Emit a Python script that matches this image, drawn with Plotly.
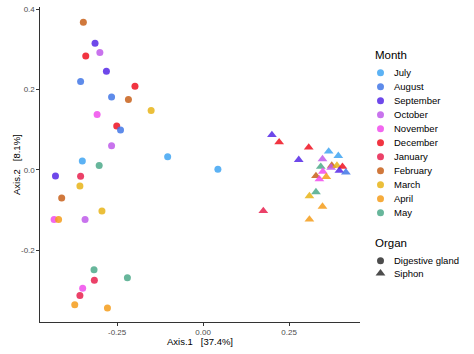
import plotly.graph_objects as go

months = ["July", "August", "September", "October", "November", "December",
          "January", "February", "March", "April", "May"]
month_colors = ["#3FA4F2", "#4277E6", "#5528E6", "#BE5BEA", "#F04CEC", "#EE1020",
                "#E8204E", "#C8601A", "#E8B418", "#F59C1A", "#4CA98A"]

# Digestive gland (circles)
dg_month = ["February", "September", "October", "December", "September", "August",
            "December", "August", "February", "March", "November", "December",
            "August", "October", "July", "May", "September", "January",
            "March", "February", "March", "November", "April", "October",
            "May", "May", "January", "November", "January", "April", "April",
            "July", "July"]
dg_x = [-0.348, -0.314, -0.300, -0.341, -0.281, -0.356, -0.198, -0.266, -0.217,
        -0.151, -0.308, -0.251, -0.240, -0.266, -0.351, -0.302, -0.429, -0.356,
        -0.358, -0.411, -0.294, -0.433, -0.420, -0.343,
        -0.317, -0.220, -0.316, -0.350, -0.358, -0.373, -0.278,
        -0.103, 0.043]
dg_y = [0.367, 0.315, 0.292, 0.283, 0.245, 0.220, 0.208, 0.181, 0.175,
        0.148, 0.138, 0.109, 0.099, 0.060, 0.022, 0.011, -0.015, -0.016,
        -0.040, -0.070, -0.102, -0.123, -0.123, -0.123,
        -0.248, -0.268, -0.274, -0.294, -0.312, -0.335, -0.343,
        0.033, 0.002]

# Siphon (triangles)
si_month = ["September", "December", "December", "September", "July", "July",
            "October", "May", "February", "October", "March", "December",
            "September", "August", "November", "February", "April", "November",
            "May", "March", "April", "January", "April"]
si_x = [0.200, 0.221, 0.307, 0.278, 0.365, 0.393, 0.347, 0.342, 0.374, 0.372,
        0.389, 0.405, 0.396, 0.415, 0.348, 0.328, 0.358, 0.338, 0.328, 0.309,
        0.347, 0.175, 0.309]
si_y = [0.087, 0.069, 0.056, 0.025, 0.046, 0.035, 0.027, 0.008, 0.011, 0.006,
        0.011, 0.008, -0.002, -0.006, -0.004, -0.015, -0.017, -0.023, -0.055,
        -0.065, -0.091, -0.102, -0.123]

organs = ["Digestive gland", "Siphon"]
organ_symbols = ["circle", "triangle-up"]

x_ticks = [-0.25, 0.0, 0.25]
x_ticklabels = ["-0.25", "0.00", "0.25"]
y_ticks = [-0.2, 0.0, 0.2, 0.4]
y_ticklabels = ["-0.2", "0.0", "0.2", "0.4"]

x_title = "Axis.1   [37.4%]"
y_title = "Axis.2   [8.1%]"

color_of = dict(zip(months, month_colors))

W, H = 474, 354
ML, MR, MT, MB = 40, 0, 7, 32
PLOT_RIGHT = 360  # pixel where the main panel ends
plot_w = W - ML - MR
plot_h = H - MT - MB
main_frac = (PLOT_RIGHT - ML) / plot_w

fig = go.Figure()

for org, sym, mlist, xs, ys in [(organs[0], organ_symbols[0], dg_month, dg_x, dg_y),
                                 (organs[1], organ_symbols[1], si_month, si_x, si_y)]:
    fig.add_trace(go.Scatter(
        x=xs, y=ys, mode="markers", showlegend=False, name=org,
        marker=dict(symbol=sym, size=7 if sym == "circle" else 8.5,
                    color=[color_of[m] for m in mlist], opacity=0.85,
                    line=dict(width=0)),
        hovertext=mlist,
    ))

# ---- legend drawn in a hidden side panel (pixel-like coordinates) ----
LEG_MARK_X = 380.5
LEG_TEXT_X = 392
month_title_y = 55
month_first_y = 72.7
row_gap = 14
organ_title_y = 243
organ_first_y = 260.7
organ_gap = 12.6

month_rows = [month_first_y + i * row_gap for i in range(len(months))]
organ_rows = [organ_first_y + i * organ_gap for i in range(len(organs))]

fig.add_trace(go.Scatter(
    x=[LEG_MARK_X] * len(months), y=month_rows, mode="markers", showlegend=False,
    marker=dict(symbol="circle", size=7, color=month_colors, opacity=0.85, line=dict(width=0)),
    xaxis="x2", yaxis="y2", hoverinfo="skip"))
fig.add_trace(go.Scatter(
    x=[LEG_MARK_X] * len(organs), y=organ_rows, mode="markers", showlegend=False,
    marker=dict(symbol=organ_symbols, size=[7, 8.5], color="black", line=dict(width=0)),
    xaxis="x2", yaxis="y2", hoverinfo="skip"))

annotations = []
for label, yy in zip(months, month_rows):
    annotations.append(dict(x=LEG_TEXT_X, y=yy, xref="x2", yref="y2", text=label,
                            showarrow=False, xanchor="left", yanchor="middle",
                            font=dict(size=9.5, color="black")))
for label, yy in zip(organs, organ_rows):
    annotations.append(dict(x=LEG_TEXT_X, y=yy, xref="x2", yref="y2", text=label,
                            showarrow=False, xanchor="left", yanchor="middle",
                            font=dict(size=9.5, color="black")))
annotations.append(dict(x=373, y=month_title_y, xref="x2", yref="y2", text="Month",
                        showarrow=False, xanchor="left", yanchor="middle",
                        font=dict(size=11.5, color="black")))
annotations.append(dict(x=373, y=organ_title_y, xref="x2", yref="y2", text="Organ",
                        showarrow=False, xanchor="left", yanchor="middle",
                        font=dict(size=11.5, color="black")))
# axis titles
annotations.append(dict(x=0.5, y=-(341.5 - (H - MB)) / plot_h, xref="x domain", yref="paper",
                        text=x_title, showarrow=False, xanchor="center", yanchor="middle",
                        font=dict(size=9.5, color="black")))
annotations.append(dict(x=-(ML - 16.5) / plot_w, y=0.5, xref="paper", yref="paper",
                        text=y_title, textangle=-90, showarrow=False,
                        xanchor="center", yanchor="middle",
                        font=dict(size=9.5, color="black")))

axis_common = dict(showgrid=False, zeroline=False, showline=True, linecolor="#333333",
                   linewidth=1.2, ticks="outside", ticklen=2.5, tickcolor="#333333",
                   tickfont=dict(size=8, color="#4d4d4d"))

fig.update_layout(
    width=W, height=H,
    margin=dict(l=ML, r=MR, t=MT, b=MB),
    plot_bgcolor="white", paper_bgcolor="white",
    font=dict(family="Liberation Sans, Arial, sans-serif", color="black"),
    showlegend=False,
    xaxis=dict(domain=[0, main_frac], range=[-0.474, 0.456], tickvals=x_ticks,
               ticktext=x_ticklabels, **axis_common),
    yaxis=dict(range=[-0.378, 0.405], tickvals=y_ticks, ticktext=y_ticklabels,
               **axis_common),
    xaxis2=dict(domain=[main_frac, 1], range=[PLOT_RIGHT, W], visible=False,
                anchor="y2", fixedrange=True),
    yaxis2=dict(domain=[0, 1], range=[H - MB, MT], visible=False,
                anchor="x2", fixedrange=True),
    annotations=annotations,
)

fig.write_html("out.html")
